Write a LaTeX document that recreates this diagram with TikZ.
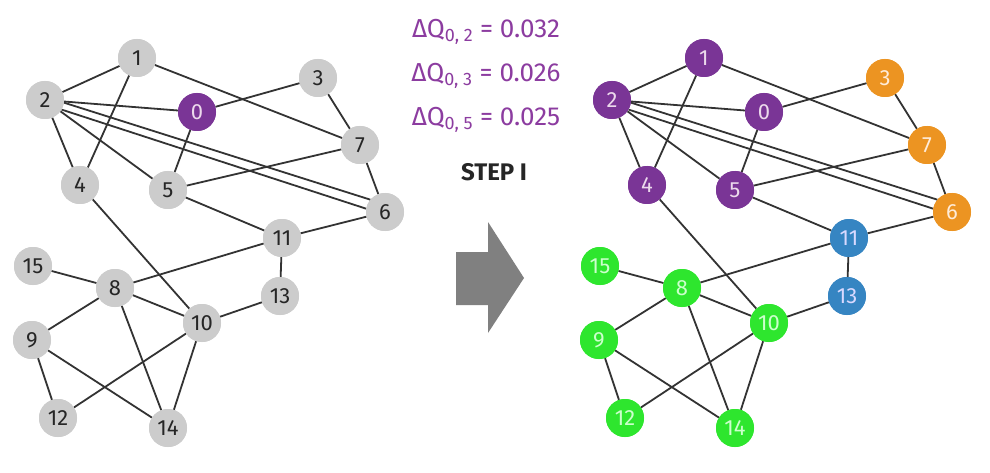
\documentclass[tikz,border=0pt]{standalone}
\usepackage{fontspec}
\setmainfont{Fira Sans}
\begin{document}
\begin{tikzpicture}[x=1pt,y=-1pt,
  nd/.style={circle,minimum size=38pt,inner sep=0pt,font=\fontsize{22}{22}\selectfont},
  gr/.style={nd,fill=black!20,text=black!85},
  pu/.style={nd,fill={rgb,255:red,122;green,53;blue,150},text=white!85!violet},
  og/.style={nd,fill={rgb,255:red,236;green,148;blue,34},text=white!85!orange},
  bl/.style={nd,fill={rgb,255:red,54;green,133;blue,194},text=white!85!blue},
  gn/.style={nd,fill={rgb,255:red,46;green,230;blue,46},text=white!80!green},
  ed/.style={line width=1.8pt,black!80}]
\useasboundingbox (0,0) rectangle (990,473);
\fill[white] (0,0) rectangle (990,473);
\def\mygraph#1#2#3#4#5#6#7{%
\begin{scope}[xshift=#1]
\node[#2] (#7n1) at (137,58) {1};
\node[#2] (#7n2) at (45,100) {2};
\node[#3] (#7n0) at (197,112) {0};
\node[#2] (#7n4) at (80,185) {4};
\node[#2] (#7n5) at (168,190) {5};
\node[#4] (#7n3) at (318,78) {3};
\node[#4] (#7n7) at (360,145) {7};
\node[#4] (#7n6) at (385,212) {6};
\node[#5] (#7n11) at (282,238) {11};
\node[#5] (#7n13) at (280,296) {13};
\node[#6] (#7n15) at (33,266) {15};
\node[#6] (#7n8) at (115,288) {8};
\node[#6] (#7n10) at (202,323) {10};
\node[#6] (#7n9) at (32,340) {9};
\node[#6] (#7n12) at (58,418) {12};
\node[#6] (#7n14) at (168,428) {14};
\end{scope}}
\def\myedges#1{%
\foreach \a/\b in {1/2,1/4,1/7,2/0,2/4,2/5,0/3,0/5,3/7,7/5,7/6,6/11,5/11,4/10,11/8,11/13,13/10,15/8,8/9,8/10,8/14,9/12,9/14,10/12,10/14}
  \draw[ed] (#1n\a) -- (#1n\b);
\draw[ed] (#1n2.-30) -- (#1n6.170);
\draw[ed] (#1n2.-8) -- (#1n6.140);}
\mygraph{0}{gr}{pu}{gr}{gr}{gr}{L}
\mygraph{567}{pu}{pu}{og}{bl}{gn}{R}
\myedges{L}\myedges{R}
\mygraph{0}{gr}{pu}{gr}{gr}{gr}{L}
\mygraph{567}{pu}{pu}{og}{bl}{gn}{R}
\node[font=\fontsize{26}{26}\selectfont,text={rgb,255:red,140;green,60;blue,160}] (q1) at (486,32) {ΔQ\textsubscript{\fontsize{18}{18}\selectfont 0, 2} = 0.032};
\node[font=\fontsize{26}{26}\selectfont,text={rgb,255:red,140;green,60;blue,160}] (q2) at (486,76) {ΔQ\textsubscript{\fontsize{18}{18}\selectfont 0, 3} = 0.026};
\node[font=\fontsize{26}{26}\selectfont,text={rgb,255:red,140;green,60;blue,160}] (q3) at (486,120) {ΔQ\textsubscript{\fontsize{18}{18}\selectfont 0, 5} = 0.025};
\node[font=\fontsize{24}{24}\selectfont\bfseries,text=black!85] (st) at (494,172) {STEP I};
\fill[black!50] (456,252) -- (488,252) -- (488,222) -- (524,278) -- (488,333) -- (488,305) -- (456,305) -- cycle;
\end{tikzpicture}
\end{document}
